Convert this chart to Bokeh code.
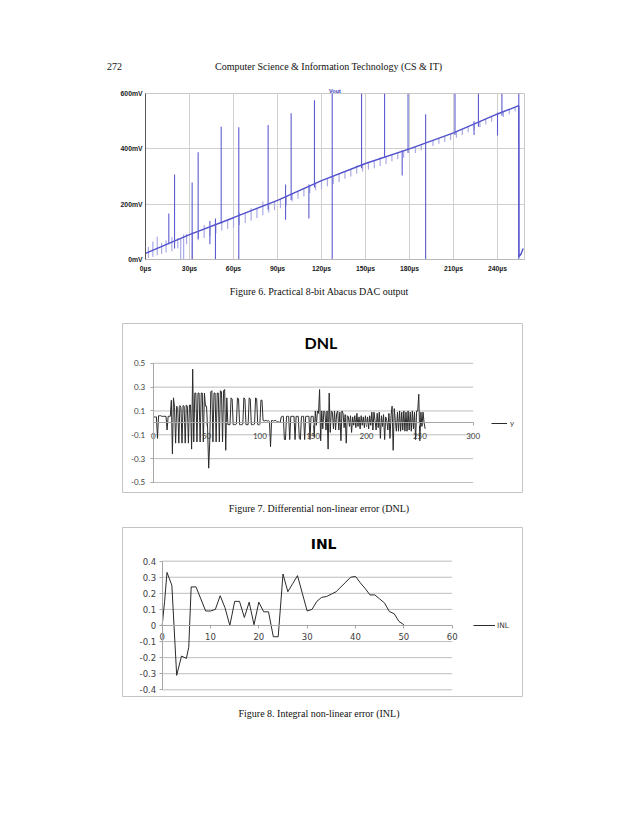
from bokeh.plotting import figure
from bokeh.models import Div, Spacer, FixedTicker, Label, Legend, LegendItem
from bokeh.layouts import column, row
from bokeh.embed import file_html
from bokeh.resources import INLINE

# ---------------- Figure 6 data (Abacus DAC output) ----------------
ramp_t = [0, 30, 60, 90, 120, 150, 180, 210, 240, 254.5, 254.6, 256, 257.5]
ramp_mv = [22, 90, 151, 214, 285, 347, 400, 458, 526, 556, 10, 20, 40]

glitch_t = [2, 5, 8, 11, 14, 18, 22, 24, 26, 28, 32, 36, 40, 44, 48, 52, 56, 60,
            64, 68, 72, 76, 80, 84, 88, 92, 96, 100, 104, 108, 112, 116, 120,
            124, 128, 132, 136, 140, 144, 148, 152, 156, 160, 164, 168, 172, 176,
            184, 188, 196, 200, 204, 208, 212, 216, 220, 224, 228, 232, 236, 244,
            248, 252]
glitch_lo = [5, 10, 15, 20, 25, 30, 40, 0, 0, 55, 0, 70, 78, 85, 95, 105, 110, 115,
             125, 132, 140, 150, 160, 170, 178, 185, 195, 210, 220, 228, 240, 250, 255,
             265, 272, 280, 292, 300, 310, 318, 325, 330, 338, 345, 355, 362, 368,
             385, 395, 410, 418, 425, 432, 440, 450, 460, 470, 478, 488, 498, 515,
             525, 535]
glitch_hi = [45, 65, 82, 60, 70, 80, 78, 76, 90, 92, 100, 102, 125, 118, 127, 135, 143, 151,
             170, 168, 185, 185, 210, 201, 210, 219, 228, 238, 247, 257, 266, 276, 285,
             293, 302, 310, 318, 326, 340, 343, 351, 358, 370, 372, 379, 386, 393,
             408, 416, 431, 439, 446, 454, 463, 472, 481, 490, 499, 508, 517, 534,
             543, 551]

spike_t = [15.9, 19.8, 31.8, 35.9, 43.9, 47.7, 51.6, 63.6, 83.6, 95.5, 99.3, 111.4,
           115.2, 127.3, 147.3, 163, 175, 179, 191, 211, 224, 227, 240, 243, 254.5]
spike_lo = [55, 40, 0, 75, 55, 0, 130, 0, 180, 144, 215, 148,
            260, 0, 330, 370, 304, 385, 0, 450, 450, 480, 448, 520, 0]
spike_hi = [166, 307, 278, 388, 139, 148, 480, 478, 486, 271, 529, 271,
            576, 605, 600, 600, 395, 600, 525, 600, 500, 600, 530, 600, 600]

f6_xticks = [0, 30, 60, 90, 120, 150, 180, 210, 240]
f6_xlabels = ["0µs", "30µs", "60µs", "90µs", "120µs", "150µs", "180µs", "210µs", "240µs"]
f6_yticks = [0, 200, 400, 600]
f6_ylabels = ["0mV", "200mV", "400mV", "600mV"]

# ---------------- Figure 7 data (DNL) ----------------
dnl_y = (
    [0.05, 0.05, 0.05, 0.05, -0.13, 0.06, 0.06, 0.06, 0.055, 0.055, 0.055, 0.055, 0.055, -0.06, 0.055, 0.055, 0.055]
    + [0.19, -0.26, 0.21, 0.13, -0.17, 0.14, 0.13, -0.17, 0.145, 0.13, -0.17, 0.145, 0.14, -0.17, 0.15, 0.14, -0.17, 0.15, 0.15, -0.22, 0.45]
    + [-0.16, 0.25, 0.25, -0.16, 0.25, 0.25, -0.16, 0.25, 0.25, -0.16, 0.25, 0.14, 0.14, -0.05, -0.38, -0.16]
    + [0.26, 0.27, -0.16, 0.25, 0.25, -0.16, 0.25, 0.25, -0.16, 0.27, 0.26, -0.16, 0.27, 0.28, -0.23, 0.21]
    + [-0.015, -0.015, -0.015, 0.21, 0.2, -0.015, -0.015, -0.015, -0.01, 0.21, 0.2, -0.015, -0.015, -0.015, -0.01, 0.21, 0.2,
       -0.015, -0.015, -0.015, 0.21, 0.2, -0.015, -0.015, -0.015, -0.01, 0.21, 0.2, -0.015, -0.015, -0.015, 0.19, 0.19]
    + [0.02, 0.015, 0.02, 0.02, 0.015, 0.02, 0.01, -0.2, 0.02, 0.02, 0.015, 0.02, 0.02, 0.01, 0.005, 0.01, 0.0, 0.05]
    + [0.055, 0.055, -0.14, -0.14, 0.055, 0.055, 0.055, -0.14, 0.055, 0.055, 0.055, 0.055, -0.14, 0.055, 0.055, 0.055,
       -0.13, -0.14, 0.055, 0.055, 0.055, -0.14, 0.055, 0.055, 0.055, 0.055, -0.14, 0.055, 0.055, 0.055, -0.12]
    + [0.10, -0.02, 0.10, 0.08, 0.28, -0.15, 0.10, -0.05]
    + [0.10, 0.09, -0.06, 0.10, -0.22, 0.25, -0.08, 0.10]
    + [0.09, -0.05, 0.10, -0.06, 0.08, 0.10, -0.06, 0.09]
    + [-0.15, 0.10, 0.08, -0.04, 0.07, -0.17, 0.06, 0.05]
    + [-0.03, 0.06, -0.08, 0.05, -0.02, 0.06, -0.04, 0.08]
    + [-0.03, 0.05, -0.05, 0.06, -0.02, 0.05, -0.04, 0.06]
    + [-0.03, 0.05, -0.05, 0.06, -0.02, 0.09, -0.06, 0.09]
    + [0.02, -0.06, 0.08, -0.04, 0.09, -0.13, 0.06, -0.03]
    + [0.07, -0.14, 0.05, 0.02, -0.06, 0.08, -0.13, 0.06]
    + [0.14, -0.23, 0.12, 0.02, -0.07, 0.09, -0.07, 0.10]
    + [-0.07, 0.09, -0.06, 0.10, -0.07, 0.09, -0.07, 0.10]
    + [-0.06, 0.09, -0.07, 0.10, -0.05, 0.09, -0.14, 0.10]
    + [0.10, 0.24, -0.15, 0.09, -0.03, 0.09, 0.0, -0.05]
)
dnl_x = list(range(len(dnl_y)))
dnl_xticks = [0, 50, 100, 150, 200, 250, 300]
dnl_yticks = [-0.5, -0.3, -0.1, 0.1, 0.3, 0.5]
dnl_ylabels = ["-0.5", "-0.3", "-0.1", "0.1", "0.3", "0.5"]

# ---------------- Figure 8 data (INL) ----------------
inl_x = [0, 0.5, 1, 2, 3, 4, 5, 5.5, 6, 7, 8, 9, 10, 11, 12, 13, 14, 15, 16, 17, 18, 19, 20,
         21, 22, 23, 24, 25, 26, 27, 28, 29, 30, 31, 32, 33, 34, 35, 36, 37, 38, 39, 40,
         41, 42, 43, 44, 45, 46, 47, 48, 49, 50]
inl_y = [0, 0.15, 0.33, 0.25, -0.31, -0.19, -0.205, -0.135, 0.24, 0.24, 0.165, 0.09, 0.09,
         0.10, 0.185, 0.11, 0.0, 0.15, 0.15, 0.05, 0.145, 0.005, 0.145, 0.085, 0.085, -0.07,
         -0.07, 0.32, 0.21, 0.26, 0.31, 0.2, 0.09, 0.10, 0.15, 0.175, 0.18, 0.195, 0.21, 0.24,
         0.27, 0.30, 0.305, 0.265, 0.23, 0.19, 0.19, 0.165, 0.14, 0.087, 0.073, 0.025, 0.005]
inl_xticks = [0, 10, 20, 30, 40, 50, 60]
inl_yticks = [-0.4, -0.3, -0.2, -0.1, 0, 0.1, 0.2, 0.3, 0.4]
inl_ylabels = ["-0.4", "-0.3", "-0.2", "-0.1", "0", "0.1", "0.2", "0.3", "0.4"]

SERIF = "'Liberation Serif', 'Times New Roman', serif"

# ---------------- header ----------------
header = Div(
    text=(f'<div style="position:relative;width:622px;height:14px;font-family:{SERIF};'
          'font-size:10px;line-height:14px;color:#111;">'
          '<span style="position:absolute;left:99px;top:0;">272</span>'
          '<span style="position:absolute;left:207px;top:0;white-space:nowrap;">'
          'Computer Science &amp; Information Technology (CS &amp; IT)</span></div>'),
    width=622, height=14, margin=0)


def caption(txt, h, lh):
    return Div(text=(f'<div style="width:622px;height:{h}px;text-align:center;font-family:{SERIF};'
                     f'font-size:10px;line-height:{lh}px;color:#111;white-space:nowrap;">{txt}</div>'),
               width=622, height=h, margin=0)


# ---------------- Figure 6 ----------------
p6 = figure(width=622, height=208, x_range=(0, 258.4), y_range=(0, 600),
            output_backend="svg", toolbar_location=None,
            min_border_left=137, min_border_right=106, min_border_top=19, min_border_bottom=23)
p6.title.text = "Vout"
p6.title.align = "center"
p6.title.standoff = 0
p6.title.text_font = "Liberation Sans"
p6.title.text_font_size = "5.5px"
p6.title.text_color = "#3c3cc0"
p6.background_fill_color = "white"
p6.outline_line_color = "#c8c8c8"
p6.xaxis.ticker = FixedTicker(ticks=f6_xticks)
p6.yaxis.ticker = FixedTicker(ticks=f6_yticks)
p6.xaxis.major_label_overrides = dict(zip(f6_xticks, f6_xlabels))
p6.yaxis.major_label_overrides = dict(zip(f6_yticks, f6_ylabels))
for ax in (p6.xaxis, p6.yaxis):
    ax.major_tick_out = 0
    ax.major_tick_in = 0
    ax.minor_tick_out = 0
    ax.minor_tick_in = 0
    ax.major_label_text_font = "Liberation Sans"
    ax.major_label_text_font_style = "bold"
    ax.major_label_text_font_size = "6.8px"
    ax.major_label_text_color = "#1a1a1a"
p6.xaxis.major_label_standoff = 5
p6.yaxis.major_label_standoff = 3
p6.xaxis.axis_line_color = "#b8b8b8"
p6.yaxis.axis_line_color = "#555555"
p6.xgrid.ticker = FixedTicker(ticks=f6_xticks[1:])
p6.ygrid.ticker = FixedTicker(ticks=f6_yticks[1:])
p6.xgrid.grid_line_color = "#d0d0d0"
p6.ygrid.grid_line_color = "#d0d0d0"

p6.segment(x0=glitch_t, y0=glitch_lo, x1=glitch_t, y1=glitch_hi,
           line_color="#aaaae8", line_width=1.2)
p6.line(ramp_t, ramp_mv, line_color="#5050cc", line_width=1.4)
p6.segment(x0=spike_t, y0=spike_lo, x1=spike_t, y1=spike_hi,
           line_color="#5c5cd0", line_width=1.1)


def style_box_axes(p, font, size):
    for ax in (p.xaxis, p.yaxis):
        ax.major_tick_in = 0
        ax.major_tick_out = 3
        ax.minor_tick_out = 0
        ax.minor_tick_in = 0
        ax.axis_line_color = "#a6a6a6"
        ax.major_tick_line_color = "#a6a6a6"
        ax.major_label_text_font = font
        ax.major_label_text_font_size = size
        ax.major_label_text_color = "#404040"
    p.xgrid.visible = False
    p.ygrid.visible = False
    p.outline_line_color = "#c4c4c4"
    p.outline_line_width = 1


# ---------------- Figure 7 (DNL) ----------------
p7 = figure(width=401, height=170, x_range=(-28.8, 347.2), y_range=(-0.5924, 0.8336),
            output_backend="svg", toolbar_location=None, min_border=0)
style_box_axes(p7, "Lato", "8px")
p7.xaxis.fixed_location = 0
p7.yaxis.fixed_location = 0
p7.xaxis.bounds = (0, 300)
p7.yaxis.bounds = (-0.5, 0.5)
p7.xaxis.ticker = FixedTicker(ticks=dnl_xticks)
p7.yaxis.ticker = FixedTicker(ticks=dnl_yticks)
p7.yaxis.major_label_overrides = dict(zip(dnl_yticks, dnl_ylabels))
p7.xaxis.major_label_standoff = 7
p7.yaxis.major_label_standoff = 5
p7.segment(x0=[dnl_xticks[0]] * len(dnl_yticks), x1=[dnl_xticks[-1]] * len(dnl_yticks),
           y0=dnl_yticks, y1=dnl_yticks, line_color="#bdbdbd", line_width=1)
r7 = p7.line(dnl_x, dnl_y, line_color="#2b2b2b", line_width=1)
p7.add_layout(Label(x=157.3, y=0.671, text="DNL", text_align="center", text_baseline="middle",
                    text_font="Lato", text_font_style="bold", text_font_size="16px",
                    text_color="#000000"))
leg7 = Legend(items=[LegendItem(label="y", renderers=[r7])], location=(369, 65),
              padding=0, margin=0, spacing=0, glyph_width=16, glyph_height=10,
              label_height=10, label_width=5, label_standoff=3, label_text_font="Lato",
              label_text_font_size="8px", label_text_color="#404040",
              border_line_color=None, background_fill_alpha=0)
p7.add_layout(leg7)

# ---------------- Figure 8 (INL) ----------------
p8 = figure(width=401, height=170, x_range=(-8.21, 74.76), y_range=(-0.4478, 0.6093),
            output_backend="svg", toolbar_location=None, min_border=0)
style_box_axes(p8, "DejaVu Sans", "8.5px")
p8.xaxis.fixed_location = 0
p8.yaxis.fixed_location = 0
p8.xaxis.bounds = (0, 60)
p8.yaxis.bounds = (-0.4, 0.4)
p8.xaxis.ticker = FixedTicker(ticks=inl_xticks)
p8.yaxis.ticker = FixedTicker(ticks=inl_yticks)
p8.yaxis.major_label_overrides = dict(zip(inl_yticks, inl_ylabels))
p8.xaxis.major_label_standoff = 5
p8.yaxis.major_label_standoff = 3
p8.segment(x0=[inl_xticks[0]] * len(inl_yticks), x1=[inl_xticks[-1]] * len(inl_yticks),
           y0=inl_yticks, y1=inl_yticks, line_color="#bdbdbd", line_width=1)
r8 = p8.line(inl_x, inl_y, line_color="#2b2b2b", line_width=1)
p8.add_layout(Label(x=33.4, y=0.508, text="INL", text_align="center", text_baseline="middle",
                    text_font="DejaVu Sans", text_font_style="bold", text_font_size="14px",
                    text_color="#000000"))
leg8 = Legend(items=[LegendItem(label="INL", renderers=[r8])], location=(351, 67),
              padding=0, margin=0, spacing=0, glyph_width=22, glyph_height=10,
              label_height=10, label_width=5, label_standoff=2, label_text_font="DejaVu Sans",
              label_text_font_size="7.5px", label_text_color="#404040",
              border_line_color=None, background_fill_alpha=0)
p8.add_layout(leg8)

page = column(
    Spacer(width=622, height=60),
    header,
    p6,
    caption("Figure 6. Practical 8-bit Abacus DAC output", 20, 20),
    Spacer(width=622, height=21),
    row(Spacer(width=114, height=170), p7),
    caption("Figure 7. Differential non-linear error (DNL)", 34, 31),
    row(Spacer(width=114, height=170), p8),
    caption("Figure 8. Integral non-linear error (INL)", 34, 34),
)
layout = row(Spacer(width=8, height=10), page)

with open("out.html", "w", encoding="utf-8") as f:
    f.write(file_html(layout, INLINE))
